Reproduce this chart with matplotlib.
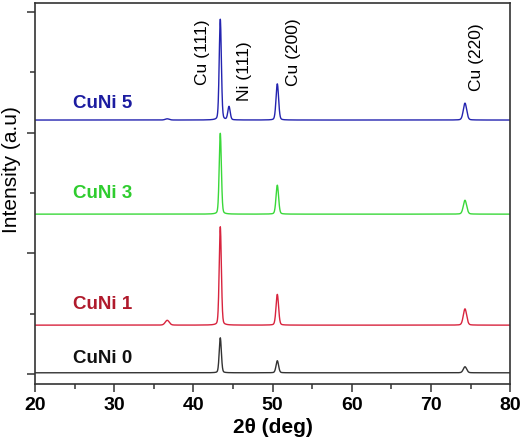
import numpy as np
import matplotlib.pyplot as plt
from matplotlib.ticker import MultipleLocator, NullFormatter

plt.rcParams['font.family'] = ['Liberation Sans', 'DejaVu Sans']

# Sample names, offsets and colours (bottom to top)
samples = ['CuNi 0', 'CuNi 1', 'CuNi 3', 'CuNi 5']
offsets = [0.02, 0.81, 2.65, 4.21]
label_y = [0.265, 1.16, 2.985, 4.49]
line_colors = ['#333333', '#d8243e', '#3ad83a', '#2424b0']
text_colors = ['#111111', '#b01a2c', '#2ecc2e', '#1c1ca0']

# Peak positions (2theta, deg)
peak_pos = [36.7, 43.4, 44.5, 50.6, 74.3]
peak_fwhm = [0.6, 0.32, 0.35, 0.38, 0.5]
# Peak heights per sample (same order as peak_pos)
heights_cuni0 = [0.0, 0.58, 0.0, 0.20, 0.10]
heights_cuni1 = [0.08, 1.63, 0.0, 0.51, 0.27]
heights_cuni3 = [0.0, 1.34, 0.0, 0.48, 0.23]
heights_cuni5 = [0.02, 1.67, 0.22, 0.60, 0.28]
all_heights = [heights_cuni0, heights_cuni1, heights_cuni3, heights_cuni5]

# Reflection labels
ref_labels = ['Cu (111)', 'Ni (111)', 'Cu (200)', 'Cu (220)']
ref_x = [41.1, 46.4, 52.7, 75.8]
ref_y = [5.34, 5.02, 5.34, 5.26]

two_theta = np.linspace(20, 80, 3001)


def pattern(heights):
    # pseudo-Voigt peaks, mostly Gaussian
    y = np.zeros_like(two_theta)
    for c, w, h in zip(peak_pos, peak_fwhm, heights):
        d = (two_theta - c) / (w / 2)
        y += h * (0.8 * np.exp(-np.log(2) * d ** 2) + 0.2 / (1 + d ** 2))
    return y


fig = plt.figure(figsize=(5.2, 4.42), dpi=100)
ax = fig.add_axes([0.0673, 0.1312, 0.9137, 0.862])

for name, off, ly, lc, tc, h in zip(samples, offsets, label_y, line_colors,
                                    text_colors, all_heights):
    ax.plot(two_theta, pattern(h) + off, color=lc, lw=1.0)
    ax.text(24.8, ly, name, color=tc, fontsize=13.5, fontweight='bold',
            ha='left', va='center')

for lab, x, y in zip(ref_labels, ref_x, ref_y):
    ax.text(x, y, lab, rotation=90, ha='center', va='center', fontsize=12.5)

ax.set_xlim(20, 80)
ax.set_ylim(-0.166, 6.15)
ax.xaxis.set_major_locator(MultipleLocator(10))
ax.xaxis.set_minor_locator(MultipleLocator(5))
ax.yaxis.set_major_locator(MultipleLocator(2))
ax.yaxis.set_minor_locator(MultipleLocator(1))
ax.yaxis.set_major_formatter(NullFormatter())
ax.tick_params(which='major', length=6, width=1.1, color='#333333')
ax.tick_params(which='minor', length=3.5, width=1.1, color='#333333')
for lbl in ax.get_xticklabels():
    lbl.set_fontweight('bold')
    lbl.set_fontsize(14)
for s in ax.spines.values():
    s.set_linewidth(1.2)
    s.set_color('#333333')

ax.set_xlabel('2θ (deg)', fontsize=15, fontweight='bold', labelpad=3)
ax.set_ylabel('Intensity (a.u)', fontsize=15)
ax.yaxis.set_label_coords(-0.03, 0.562)

fig.savefig('out.png', dpi=100)
